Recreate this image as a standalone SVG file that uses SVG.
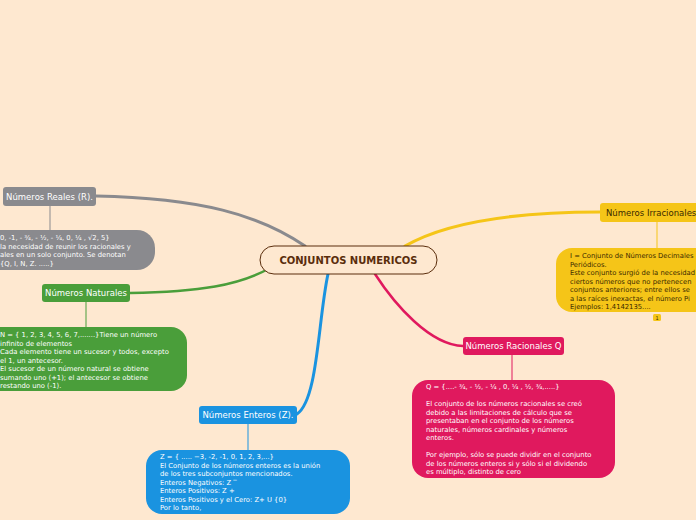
<svg xmlns="http://www.w3.org/2000/svg" width="696" height="520" viewBox="0 0 696 520">
<style>
.t{font-family:"DejaVu Sans",Verdana,sans-serif;font-size:8.5px;fill:#fff}
.b{font-family:"DejaVu Sans",Verdana,sans-serif;font-size:6.8px;fill:#fff}
.d{fill:#3a2a00}
.c{fill:none;stroke-linecap:round}
</style>
<rect width="696" height="520" fill="#fee8d0"/>
<g id="connectors">
<path class="c" d="M96,196 C200,198 260,215 305,246" stroke="#8a8a8e" stroke-width="3"/>
<path class="c" d="M50,206 V230" stroke="#8a8a8e" stroke-width="1"/>
<path class="c" d="M130,293 C200,292 240,285 270,268" stroke="#4a9e3a" stroke-width="2.5"/>
<path class="c" d="M86,302 V327" stroke="#4a9e3a" stroke-width="1"/>
<path class="c" d="M297,414 C318,400 318,320 328,274" stroke="#1a93e0" stroke-width="3"/>
<path class="c" d="M248,424 V450" stroke="#1a93e0" stroke-width="1"/>
<path class="c" d="M375,274 C395,305 430,345 463,346" stroke="#e0195e" stroke-width="2.5"/>
<path class="c" d="M512,355 V380" stroke="#e0195e" stroke-width="1"/>
<path class="c" d="M405,246 C450,220 520,212 600,212" stroke="#f5c518" stroke-width="3"/>
<path class="c" d="M657,222 V248" stroke="#f5c518" stroke-width="1"/>
</g>
<g id="central">
<rect x="260" y="246" width="177" height="28" rx="14" fill="#fee8d0" stroke="#5a2d0c" stroke-width="1"/>
<text x="348.5" y="264" text-anchor="middle" style="font-family:'DejaVu Sans',Verdana,sans-serif;font-size:10px;font-weight:bold;fill:#5a2d0c">CONJUNTOS NUMERICOS</text>
</g>
<g id="reales">
<rect x="3" y="187" width="93" height="19" rx="3" fill="#8a8a8e"/>
<text class="t" x="49.5" y="199.5" text-anchor="middle">Números Reales (R).</text>
</g>
<g id="reales-detail">
<rect x="-20" y="230" width="175" height="40" rx="18" fill="#8a8a8e"/>
<text class="b" x="0" y="240">0, -1, - ¾, - ½, - ¼, 0, ¼ , √2, 5}</text>
<text class="b" x="0" y="248.5">la necesidad de reunir los racionales y</text>
<text class="b" x="0" y="257">ales en un solo conjunto. Se denotan</text>
<text class="b" x="0" y="265.5">{Q, I, N, Z. .....}</text>
</g>
<g id="naturales">
<rect x="42" y="284" width="88" height="18" rx="3" fill="#4a9e3a"/>
<text class="t" x="86" y="296" text-anchor="middle">Números Naturales</text>
</g>
<g id="naturales-detail">
<rect x="-20" y="327" width="207" height="64" rx="16" fill="#4a9e3a"/>
<text class="b" x="0" y="337">N = { 1, 2, 3, 4, 5, 6, 7,.......}Tiene un número</text>
<text class="b" x="0" y="345.5">infinito de elementos</text>
<text class="b" x="0" y="354">Cada elemento tiene un sucesor y todos, excepto</text>
<text class="b" x="0" y="362.5">el 1, un antecesor.</text>
<text class="b" x="0" y="371">El sucesor de un número natural se obtiene</text>
<text class="b" x="0" y="379.5">sumando uno (+1); el antecesor se obtiene</text>
<text class="b" x="0" y="388">restando uno (-1).</text>
</g>
<g id="enteros">
<rect x="199" y="406" width="98" height="18" rx="3" fill="#1a93e0"/>
<text class="t" x="248" y="418" text-anchor="middle">Números Enteros (Z).</text>
</g>
<g id="enteros-detail">
<rect x="146" y="450" width="204" height="64" rx="16" fill="#1a93e0"/>
<text class="b" x="160" y="459">Z = { ..... −3, -2, -1, 0, 1, 2, 3,...}</text>
<text class="b" x="160" y="467.5">El Conjunto de los números enteros es la unión</text>
<text class="b" x="160" y="476">de los tres subconjuntos mencionados.</text>
<text class="b" x="160" y="484.5">Enteros Negativos: Z ‾</text>
<text class="b" x="160" y="493">Enteros Positivos: Z +</text>
<text class="b" x="160" y="501.5">Enteros Positivos y el Cero: Z+ U {0}</text>
<text class="b" x="160" y="510">Por lo tanto,</text>
</g>
<g id="racionales">
<rect x="463" y="337" width="101" height="18" rx="3" fill="#e0195e"/>
<text class="t" x="513.5" y="349" text-anchor="middle">Números Racionales Q</text>
</g>
<g id="racionales-detail">
<rect x="412" y="380" width="203" height="98" rx="16" fill="#e0195e"/>
<text class="b" x="426" y="389">Q = {....- ¾, - ½, - ¼ , 0, ¼ , ½, ¾,.....}</text>
<text class="b" x="426" y="406">El conjunto de los números racionales se creó</text>
<text class="b" x="426" y="414.5">debido a las limitaciones de cálculo que se</text>
<text class="b" x="426" y="423">presentaban en el conjunto de los números</text>
<text class="b" x="426" y="431.5">naturales, números cardinales y números</text>
<text class="b" x="426" y="440">enteros.</text>
<text class="b" x="426" y="457">Por ejemplo, sólo se puede dividir en el conjunto</text>
<text class="b" x="426" y="465.5">de los números enteros si y sólo si el dividendo</text>
<text class="b" x="426" y="474">es múltiplo, distinto de cero</text>
</g>
<g id="irracionales">
<rect x="600" y="203" width="110" height="19" rx="3" fill="#f5c518"/>
<text class="t d" x="606" y="216">Números Irracionales (</text>
</g>
<g id="irracionales-detail">
<rect x="556" y="248" width="160" height="64" rx="16" fill="#f5c518"/>
<text class="b d" x="570" y="258">I = Conjunto de Números Decimales</text>
<text class="b d" x="570" y="266.5">Periódicos.</text>
<text class="b d" x="570" y="275">Este conjunto surgió de la necesidad</text>
<text class="b d" x="570" y="283.5">ciertos números que no pertenecen</text>
<text class="b d" x="570" y="292">conjuntos anteriores; entre ellos se</text>
<text class="b d" x="570" y="300.5">a las raíces inexactas, el número Pi</text>
<text class="b d" x="570" y="309">Ejemplos: 1,4142135....</text>
<rect x="653" y="314" width="8" height="7" rx="1.5" fill="#f5c518"/>
<text x="657" y="319.5" text-anchor="middle" style="font-family:'DejaVu Sans',sans-serif;font-size:5px;fill:#3a2a00">1</text>
</g>
</svg>
